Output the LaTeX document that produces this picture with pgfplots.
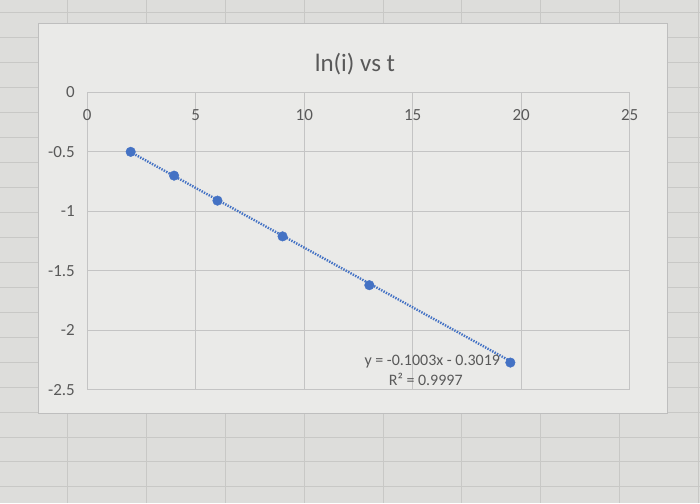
\documentclass[border=0pt]{standalone}
\usepackage{pgfplots}
\pgfplotsset{compat=1.18}
\usepackage{fontspec}
\setmainfont{Carlito}

\definecolor{sheetbg}{RGB}{221,221,219}
\definecolor{cellline}{RGB}{200,200,198}
\definecolor{chartbg}{RGB}{234,234,232}
\definecolor{chartframe}{RGB}{190,190,190}
\definecolor{gridgray}{RGB}{196,196,196}
\definecolor{txtgray}{RGB}{89,89,89}
\definecolor{xlblue}{RGB}{68,114,196}

\begin{document}
\begin{tikzpicture}[x=1pt,y=1pt]
% spreadsheet behind the chart
\fill[sheetbg] (0,0) rectangle (700,503);
\foreach \gx in {67,146,225,304,383,462,541,620,699}
  \draw[cellline, line width=0.8pt] (\gx,0) -- (\gx,503);
\foreach \gy in {16,41,...,491}
  \draw[cellline, line width=0.8pt] (0,\gy) -- (700,\gy);
% chart area
\draw[chartframe, fill=chartbg, line width=1pt] (38,89) rectangle (668,480);
\node[txtgray, font=\fontsize{25}{25}\selectfont] at (355,439) {ln(i) vs t};

\begin{axis}[
    at={(87pt,113pt)}, anchor=south west,
    scale only axis,
    width=543pt, height=298pt,
    xmin=0, xmax=25, ymin=-2.5, ymax=0,
    xtick={0,5,...,25},
    xticklabels={0,5,10,15,20,25},
    ytick={-2.5,-2,-1.5,-1,-0.5,0},
    yticklabels={-2.5,-2,-1.5,-1,-0.5,0},
    xticklabel pos=upper,
    xticklabel style={anchor=north, yshift=-14pt},
    yticklabel style={xshift=-9pt},
    ticklabel style={text=txtgray, font=\fontsize{17}{17}\selectfont},
    major tick length=0pt,
    grid=major,
    major grid style={gridgray, line width=1pt},
    axis line style={gridgray, line width=1pt},
    clip=false,
]
% dotted linear trendline over the data range
\addplot[xlblue, line width=2.4pt, dash pattern=on 1.4pt off 1.3pt]
    coordinates {(2,-0.5025) (19.5,-2.2578)};
% measured points
\addplot[only marks, mark=*, mark size=4.8pt, color=xlblue]
    coordinates {(2,-0.50) (4,-0.70) (6,-0.91) (9,-1.21) (13,-1.62) (19.5,-2.27)};

\node[txtgray, font=\fontsize{16}{16}\selectfont] at (axis cs:15.9,-2.26)
    {y = -0.1003x - 0.3019};
\node[txtgray, font=\fontsize{16}{16}\selectfont] at (axis cs:15.6,-2.41)
    {R² = 0.9997};
\end{axis}
\end{tikzpicture}
\end{document}
